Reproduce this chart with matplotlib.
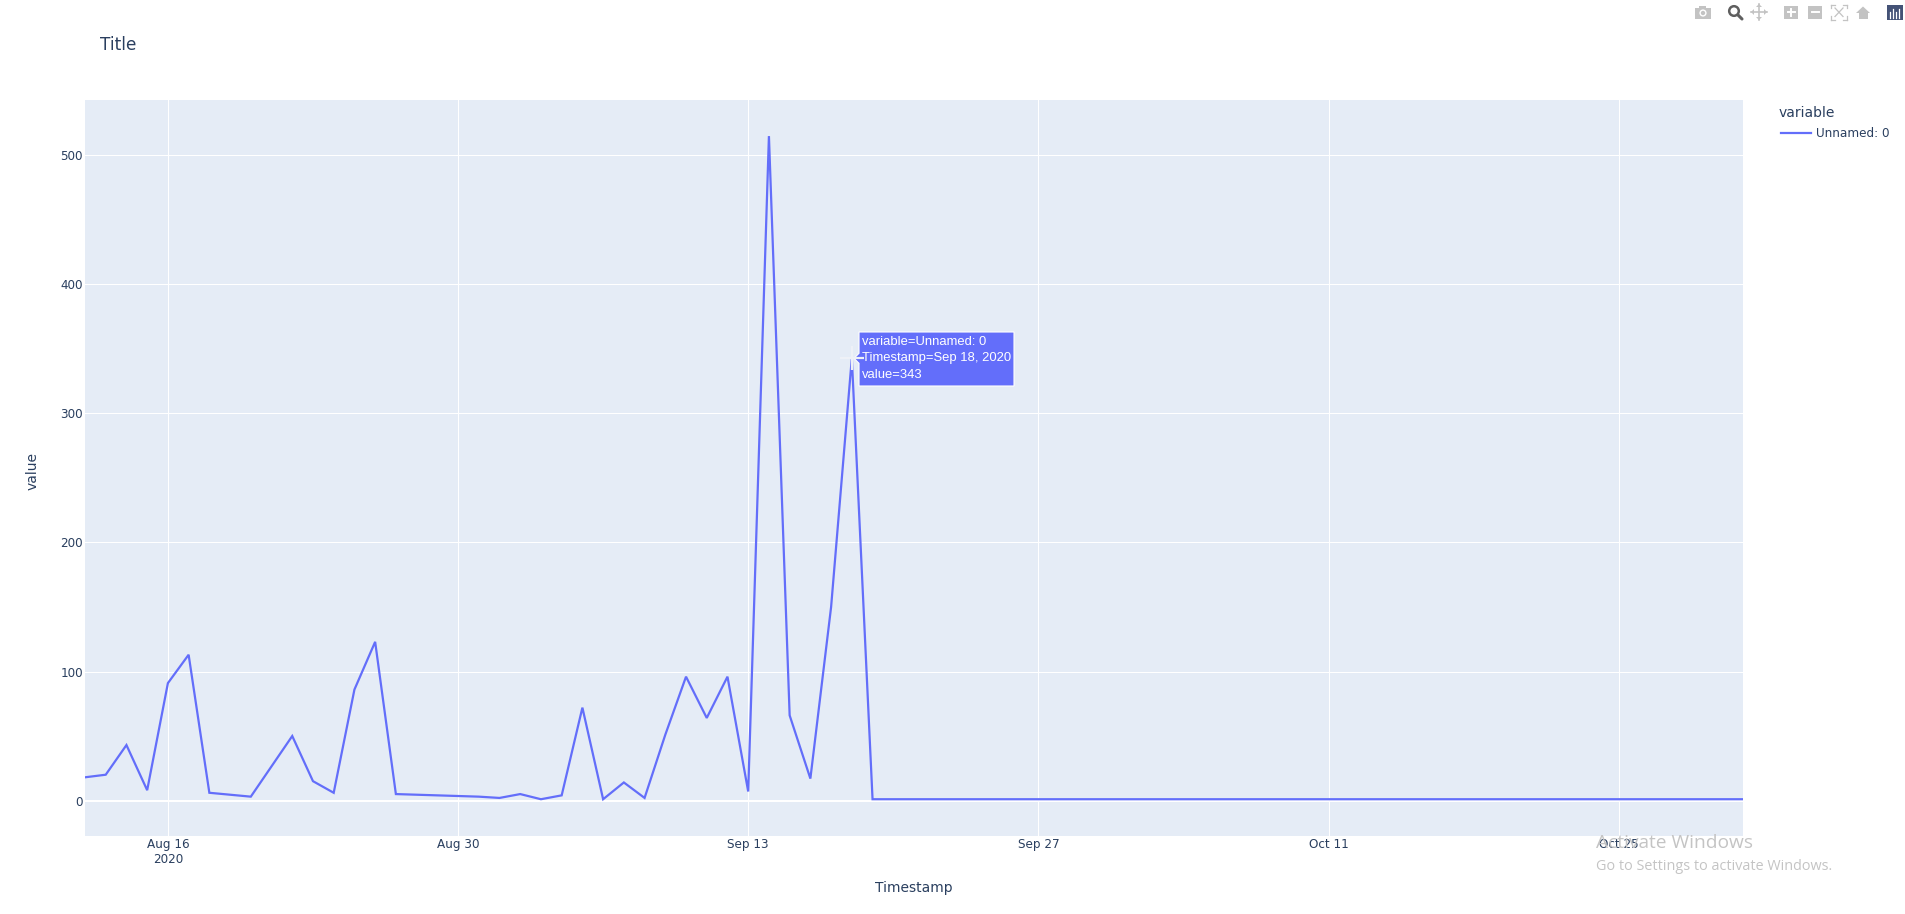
import matplotlib
matplotlib.use("Agg")
import matplotlib.pyplot as plt
import matplotlib.dates as mdates
from matplotlib.patches import Polygon, Rectangle, Circle
import pandas as pd

dates_a = ["2020-08-12", "2020-08-13", "2020-08-14", "2020-08-15", "2020-08-16", "2020-08-17",
           "2020-08-18", "2020-08-20", "2020-08-22", "2020-08-23", "2020-08-24", "2020-08-25",
           "2020-08-26", "2020-08-27", "2020-08-31", "2020-09-01", "2020-09-02", "2020-09-03",
           "2020-09-04", "2020-09-05", "2020-09-06", "2020-09-07", "2020-09-08", "2020-09-09",
           "2020-09-10", "2020-09-11", "2020-09-12", "2020-09-13", "2020-09-14", "2020-09-15",
           "2020-09-16", "2020-09-17", "2020-09-18", "2020-09-19", "2020-10-31"]
values = [18, 20, 43, 8, 91, 113,
          6, 3, 50, 15, 6, 86,
          123, 5, 3, 2, 5, 1,
          4, 72, 1, 14, 2, 51,
          96, 64, 96, 7, 515, 66,
          17, 150, 343, 1, 1]
x_ticks = ["2020-08-16", "2020-08-30", "2020-09-13", "2020-09-27", "2020-10-11", "2020-10-25"]
x_tick_labels = ["Aug 16\n2020", "Aug 30", "Sep 13", "Sep 27", "Oct 11", "Oct 25"]
y_ticks = [0, 100, 200, 300, 400, 500]
hover_date = "2020-09-18"
hover_value = 343
hover_lines = ["variable=Unnamed: 0", "Timestamp=Sep 18, 2020", "value=343"]
series_name = "Unnamed: 0"

W, H = 1905, 914
BLUE = "#636efa"
INK = "#2a3f5f"
plt.rcParams["font.family"] = ["DejaVu Sans"]

fig = plt.figure(figsize=(W / 100, H / 100), dpi=100, facecolor="white")
L, R, T, B = 85, 1743, 99.6, 836
ax = fig.add_axes([L / W, 1 - B / H, (R - L) / W, (B - T) / H], facecolor="#e5ecf6")

x = pd.to_datetime(dates_a)
ax.plot(x, values, color=BLUE, lw=1.6, solid_joinstyle="miter", zorder=3)
ax.set_xlim(pd.Timestamp("2020-08-12"), pd.Timestamp("2020-10-31"))
ax.set_ylim(-27.5, 543.3)

ax.set_xticks(pd.to_datetime(x_ticks))
ax.set_xticklabels(x_tick_labels, linespacing=1.22)
ax.set_yticks(y_ticks)
ax.tick_params(axis="both", length=0, labelsize=8.64, labelcolor=INK)
ax.tick_params(axis="x", pad=1.6)
ax.tick_params(axis="y", pad=1.5)
ax.grid(True, color="white", lw=0.72, zorder=1)
ax.set_axisbelow(True)
ax.axhline(0, color="white", lw=1.44, zorder=2)
for s in ax.spines.values():
    s.set_visible(False)

# overlay in pixel coordinates for chrome
ov = fig.add_axes([0, 0, 1, 1], facecolor="none")
ov.set_xlim(0, W)
ov.set_ylim(H, 0)
ov.axis("off")

ov.text(100, 45, "Title", fontsize=12.2, color=INK, va="center", ha="left")
ov.text(914, 888, "Timestamp", fontsize=10, color=INK, va="center", ha="center")
ov.text(32.5, 471, "value", fontsize=10, color=INK, va="center", ha="center", rotation=90)

# legend
ov.text(1779, 113, "variable", fontsize=10, color=INK, va="center", ha="left")
ov.plot([1781, 1811], [132.5, 132.5], color=BLUE, lw=1.6)
ov.text(1816.5, 133.5, series_name, fontsize=8.64, color=INK, va="center", ha="left")

# hover label
ov.add_patch(Polygon([(854, 358.3), (859, 353.3), (859, 332), (1014, 332), (1014, 386),
                      (859, 386), (859, 363.3)], closed=True, fc=BLUE, ec="white", lw=0.8, zorder=5))
# hover crosshair at the hovered point, drawn over the label's arrow
ov.plot([mdates.date2num(pd.Timestamp(hover_date))], [hover_value], marker="+", ms=17.5, mew=1.6,
        color="#eef1f7", transform=ax.transData, clip_on=False, zorder=5.5)
for yy, s in zip([341.7, 358.3, 375], hover_lines):
    ov.text(862, yy, s, fontsize=9.4, color="white", family="Liberation Sans",
            va="center", ha="left", zorder=6)

# toolbar icons
G = "#c3c3c3"
# camera
ov.add_patch(Rectangle((1695, 8), 16, 11, fc=G, ec="none"))
ov.add_patch(Rectangle((1699, 6), 7, 3, fc=G, ec="none"))
ov.add_patch(Circle((1703, 13), 3.6, fc="white", ec="none"))
ov.add_patch(Circle((1703, 13), 2.2, fc=G, ec="none"))
# zoom (active)
D = "#5f5f5f"
ov.add_patch(Circle((1734, 11), 4.8, fc="none", ec=D, lw=1.8))
ov.plot([1738, 1742], [15, 19], color=D, lw=2.2, solid_capstyle="round")
# pan
ov.plot([1751, 1767], [12, 12], color=G, lw=1.2)
ov.plot([1759, 1759], [4, 20], color=G, lw=1.2)
for pts in ([(1751, 12), (1754, 9), (1754, 15)], [(1767, 12), (1764, 9), (1764, 15)],
            [(1759, 4), (1756, 7), (1762, 7)], [(1759, 20), (1756, 17), (1762, 17)]):
    ov.add_patch(Polygon(pts, fc=G, ec="none"))
# plus / minus
ov.add_patch(Rectangle((1784, 5.5), 14, 13.5, fc=G, ec="none"))
ov.plot([1787.5, 1794.5], [12.2, 12.2], color="white", lw=1.4)
ov.plot([1791, 1791], [8.7, 15.7], color="white", lw=1.4)
ov.add_patch(Rectangle((1808, 5.5), 14, 13.5, fc=G, ec="none"))
ov.plot([1811.5, 1818.5], [12.2, 12.2], color="white", lw=1.4)
# autoscale
for a, b in (((1831, 8), (1831, 4.5)), ((1831, 4.5), (1835, 4.5)), ((1843, 4.5), (1847, 4.5)),
             ((1847, 4.5), (1847, 8)), ((1831, 16), (1831, 20)), ((1831, 20), (1835, 20)),
             ((1843, 20), (1847, 20)), ((1847, 20), (1847, 16)), ((1835, 8), (1843, 16.5)),
             ((1843, 8), (1835, 16.5))):
    ov.plot([a[0], b[0]], [a[1], b[1]], color=G, lw=0.9)
# home
ov.add_patch(Polygon([(1856, 13), (1863, 6.5), (1870, 13)], fc=G, ec="none"))
ov.add_patch(Rectangle((1858.5, 13), 9, 5.5, fc=G, ec="none"))
# logo
ov.add_patch(Rectangle((1887, 4.5), 15.5, 15.5, fc="#445276", ec="none"))
for bx, by in ((1890, 12), (1893, 9), (1896, 12), (1899, 9)):
    ov.plot([bx, bx], [by, 17.5], color="white", lw=0.9)

# watermark over the last tick label
ov.text(1596, 843, "Activate Windows", fontsize=13.8, color="#c4c4c4", family="Open Sans",
        va="center", ha="left", zorder=7)
ov.text(1596, 866, "Go to Settings to activate Windows.", fontsize=10.4, color="#c4c4c4",
        family="Open Sans", va="center", ha="left", zorder=7)

fig.savefig("out.png", dpi=100, facecolor="white")
